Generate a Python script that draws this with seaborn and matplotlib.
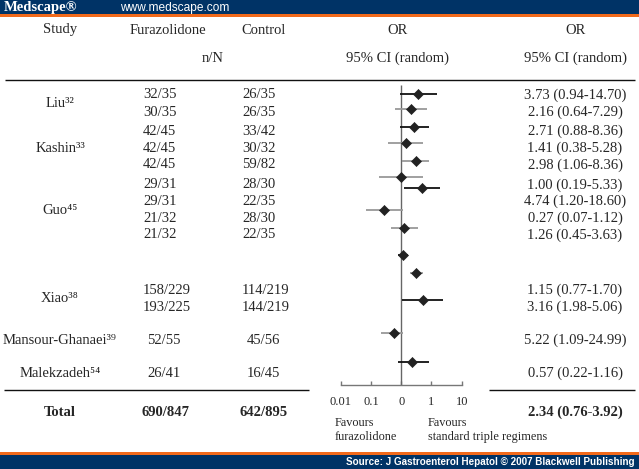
import matplotlib
matplotlib.use("Agg")
import matplotlib.pyplot as plt
import numpy as np
import pandas as pd
import seaborn as sns

# Table contents
studies = ["Liu³²", "Kashin³³", "Guo⁴⁵", "Xiao³⁸", "Mansour-Ghanaei³⁹", "Malekzadeh⁵⁴"]
study_rows = [[0, 1], [2, 3, 4], [5, 6, 7, 8], [9, 10], [11], [12]]
furazolidone = ["32/35", "30/35", "42/45", "42/45", "42/45", "29/31", "29/31",
                "21/32", "21/32", "158/229", "193/225", "52/55", "26/41"]
control = ["26/35", "26/35", "33/42", "30/32", "59/82", "28/30", "22/35",
           "28/30", "22/35", "114/219", "144/219", "45/56", "16/45"]
or_text = ["3.73 (0.94-14.70)", "2.16 (0.64-7.29)", "2.71 (0.88-8.36)",
           "1.41 (0.38-5.28)", "2.98 (1.06-8.36)", "1.00 (0.19-5.33)",
           "4.74 (1.20-18.60)", "0.27 (0.07-1.12)", "1.26 (0.45-3.63)",
           "1.15 (0.77-1.70)", "3.16 (1.98-5.06)", "5.22 (1.09-24.99)",
           "0.57 (0.22-1.16)"]
total_fur = "690/847"
total_ctl = "642/895"
total_or = "2.34 (0.76-3.92)"

# Forest plot values as drawn (odds ratios, log axis)
or_est = [3.73, 2.16, 2.71, 1.41, 2.98, 1.00, 4.74, 0.27, 1.26, 1.15, 3.16, 5.22, 0.57, 2.34]
ci_low = [0.94, 0.64, 0.88, 0.38, 1.06, 0.19, 1.20, 0.07, 0.45, 0.77, 1.98, 1.09, 0.22, 0.79]
ci_high = [14.70, 7.29, 8.36, 5.28, 8.36, 5.33, 18.60, 1.12, 3.63, 1.70, 5.06, 24.99, 1.16, 8.30]
tick_vals = [0.01, 0.1, 1, 10, 100]
tick_labels = ["0.01", "0.1", "0", "1", "10"]

sns.set_theme(style="white")
plt.rcParams["font.family"] = ["Liberation Serif", "DejaVu Serif"]

W, H = 639, 469
NAVY = "#003366"
ORANGE = "#f26a1b"

fig = plt.figure(figsize=(W / 100, H / 100), dpi=100)
ax = fig.add_axes([0, 0, 1, 1])
ax.set_xlim(0, W)
ax.set_ylim(H, 0)
ax.axis("off")

# header / footer bands
ax.axhspan(0, 14.5, color=NAVY, lw=0)
ax.axhspan(14.5, 17, color=ORANGE, lw=0)
ax.axhspan(452.5, 455, color=ORANGE, lw=0)
ax.axhspan(455, H, color=NAVY, lw=0)
ax.text(4, 7.5, "Medscape®", color="white", fontsize=10.5, va="center",
        ha="left", weight="bold", family=["Liberation Serif", "DejaVu Serif"])
ax.text(120, 7.5, "www.medscape.com", color="white", fontsize=8.6,
        va="center", ha="left", family=["Liberation Sans", "DejaVu Sans"])
ax.text(634, 462, "Source: J Gastroenterol Hepatol © 2007 Blackwell Publishing",
        color="white", fontsize=7.1, va="center", ha="right", weight="bold",
        family=["Liberation Sans", "DejaVu Sans"])

fs = 10.5
# column headers
ax.text(60, 30, "Study", fontsize=fs, ha="center", va="center")
ax.text(168, 30, "Furazolidone", fontsize=fs, ha="center", va="center")
ax.text(264, 30, "Control", fontsize=fs, ha="center", va="center")
ax.text(213, 58, "n/N", fontsize=fs, ha="center", va="center")
ax.text(398, 30, "OR", fontsize=fs, ha="center", va="center")
ax.text(398, 58, "95% CI (random)", fontsize=fs, ha="center", va="center")
ax.text(575, 30, "OR", fontsize=fs, ha="center", va="center")
ax.text(575, 58, "95% CI (random)", fontsize=fs, ha="center", va="center")

# rules
ax.hlines(80, 5, 635, color="#111111", lw=1.0)
ax.hlines(390.5, 4, 309, color="#111111", lw=1.0)
ax.hlines(390.5, 489, 635, color="#111111", lw=1.0)

# table rows
row_y = [95, 112, 131.5, 148.3, 165, 185, 201.7, 218.3, 235, 290.7, 307.3, 340, 373.3]
for name, rows in zip(studies, study_rows):
    ys = [row_y[r] for r in rows]
    ax.text(60, np.mean(ys), name, fontsize=fs, ha="center", va="center")
    single = len(rows) == 1
    for r in rows:
        if single:
            ax.text(164, row_y[r], furazolidone[r], fontsize=fs, ha="center", va="center")
            ax.text(263, row_y[r], control[r], fontsize=fs, ha="center", va="center")
        else:
            ax.text(143, row_y[r], furazolidone[r], fontsize=fs, ha="left", va="center")
            ax.text(242, row_y[r], control[r], fontsize=fs, ha="left", va="center")
        ax.text(575, row_y[r], or_text[r], fontsize=fs, ha="center", va="center")

ax.text(60, 412.5, "Total", fontsize=fs, ha="center", va="center", weight="bold")
ax.text(166, 412.5, total_fur, fontsize=fs, ha="center", va="center", weight="bold")
ax.text(264, 412.5, total_ctl, fontsize=fs, ha="center", va="center", weight="bold")
ax.text(575, 412.5, total_or, fontsize=fs, ha="center", va="center", weight="bold")

ax.text(335, 430, "Favours\nfurazolidone", fontsize=8.8, ha="left", va="center",
        linespacing=1.2)
ax.text(428, 430, "Favours\nstandard triple regimens", fontsize=8.8, ha="left",
        va="center", linespacing=1.2)

# forest plot axes: x from 340.7 to 461.7 px, y from 80 to 385 px
x0, x1, yb, yt = 340.7, 461.7, 385, 80
fax = fig.add_axes([x0 / W, (H - yb) / H, (x1 - x0) / W, (yb - yt) / H])
fax.set_facecolor("none")
fax.set_xscale("log")
fax.set_xlim(0.01, 100)
fax.set_ylim(yb, yt)
for s in ["top", "right", "left"]:
    fax.spines[s].set_visible(False)
fax.spines["bottom"].set_color("#777777")
fax.spines["bottom"].set_linewidth(1.0)
fax.set_xticks(tick_vals)
fax.set_xticklabels(tick_labels, fontsize=9)
fax.minorticks_off()
fax.tick_params(axis="x", direction="in", length=3, width=1.0, color="#777777",
                pad=8, bottom=True)
fax.set_yticks([])

plot_y = [94, 109.3, 126.7, 143.3, 161, 177, 188.3, 210.3, 228, 255, 272.7, 300, 333, 362.3]
line_colors = ["#111111", "#999999", "#111111", "#999999", "#999999", "#999999",
               "#111111", "#999999", "#999999", "#111111", "#999999", "#111111",
               "#999999", "#111111"]
fax.vlines(1, 85, yb, color="#666666", lw=1.0)
fax.hlines(plot_y, ci_low, ci_high, colors=line_colors, lw=1.3)
df = pd.DataFrame({"or": or_est, "y": plot_y})
sns.scatterplot(data=df, x="or", y="y", marker="D", s=26, color="#222222",
                edgecolor="#222222", linewidth=0.5, ax=fax, legend=False, zorder=3)
fax.set_xlabel("")
fax.set_ylabel("")
fax.set_ylim(yb, yt)

fig.savefig("out.png", dpi=100)
